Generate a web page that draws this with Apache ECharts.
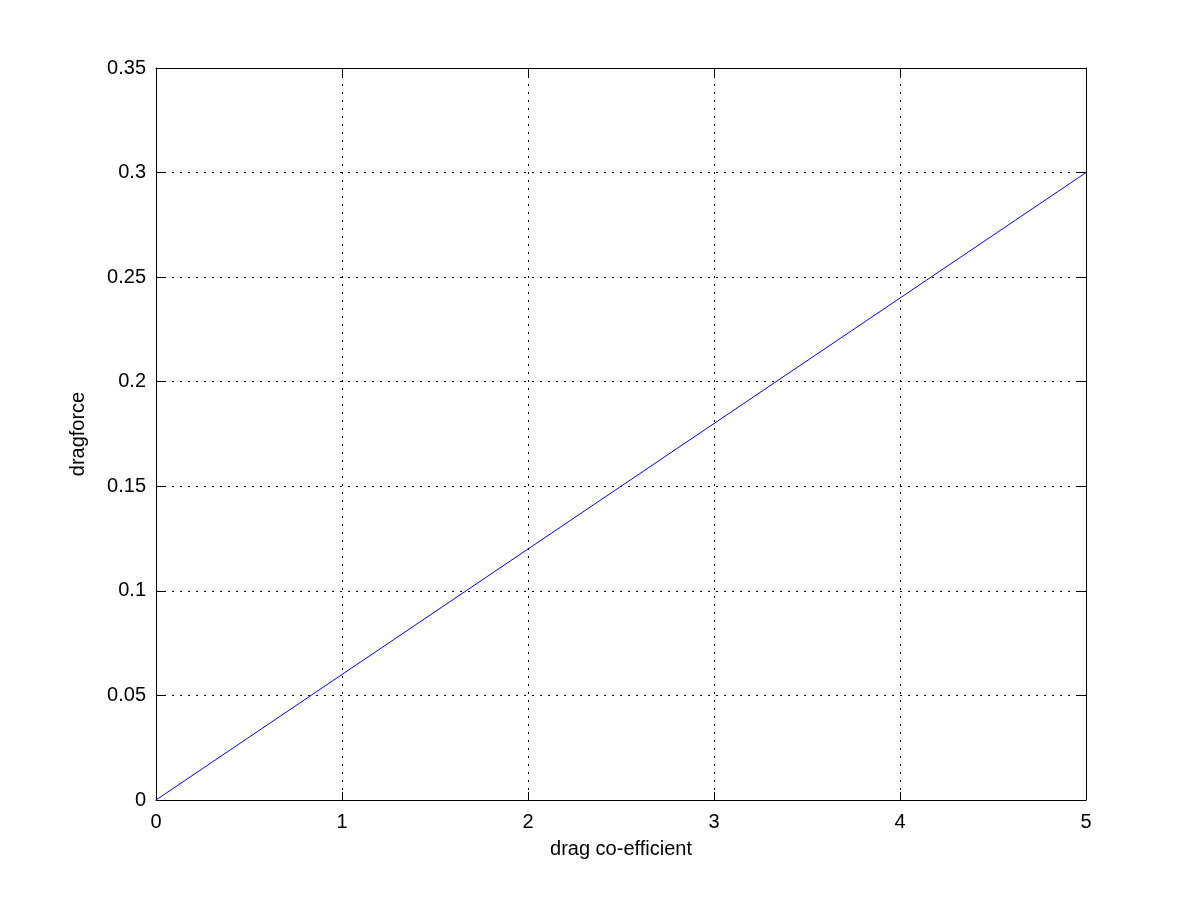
<!DOCTYPE html>
<html>
<head>
<meta charset="utf-8">
<script src="https://cdn.jsdelivr.net/npm/echarts@6/dist/echarts.min.js"></script>
<style>
  html, body { margin: 0; padding: 0; background: #fff; }
  #chart { width: 1200px; height: 900px; }
</style>
</head>
<body>
<div id="chart"></div>
<script>
// 数据：阻力系数 与 阻力
const dragCoefficient = [0, 1, 2, 3, 4, 5];
const dragForce = [0, 0.06, 0.12, 0.18, 0.24, 0.30];
const xTicks = [0, 1, 2, 3, 4, 5];
const yTicks = [0, 0.05, 0.1, 0.15, 0.2, 0.25, 0.3, 0.35];

const chart = echarts.init(document.getElementById('chart'));
const font = 'Liberation Sans, Arial, sans-serif';

const baseAxis = {
    axisLine: { show: true, onZero: false, lineStyle: { color: '#000', width: 1 } },
    axisTick: { show: true, inside: true, length: 8, lineStyle: { color: '#000' } },
    splitLine: { show: false },
};

const option = {
    animation: false,
    grid: { left: 156, right: 114, top: 68, bottom: 100 },
    xAxis: [
        {
            ...baseAxis,
            type: 'value',
            min: xTicks[0],
            max: xTicks[xTicks.length - 1],
            interval: 1,
            name: 'drag co-efficient',
            nameLocation: 'middle',
            nameGap: 39,
            nameTextStyle: { color: '#000', fontSize: 20, fontFamily: font },
            axisLabel: { color: '#000', fontSize: 20, fontFamily: font, margin: 12 },
            splitLine: { show: true, lineStyle: { color: '#000', type: [2, 6], width: 1 } },
        },
        {
            ...baseAxis,
            type: 'value',
            position: 'top',
            min: xTicks[0],
            max: xTicks[xTicks.length - 1],
            interval: 1,
            axisLabel: { show: false },
        },
    ],
    yAxis: [
        {
            ...baseAxis,
            type: 'value',
            min: yTicks[0],
            max: yTicks[yTicks.length - 1],
            interval: 0.05,
            name: 'dragforce',
            nameLocation: 'middle',
            nameGap: 68,
            nameTextStyle: { color: '#000', fontSize: 20, fontFamily: font },
            axisLabel: { color: '#000', fontSize: 20, fontFamily: font, margin: 10 },
            splitLine: { show: true, lineStyle: { color: '#000', type: [2, 6], width: 1 } },
        },
        {
            ...baseAxis,
            type: 'value',
            position: 'right',
            min: yTicks[0],
            max: yTicks[yTicks.length - 1],
            interval: 0.05,
            axisLabel: { show: false },
        },
    ],
    series: [
        {
            type: 'line',
            data: dragCoefficient.map((x, i) => [x, dragForce[i]]),
            showSymbol: false,
            lineStyle: { color: '#0000ff', width: 1 },
        },
    ],
};

chart.setOption(option);
</script>
</body>
</html>
